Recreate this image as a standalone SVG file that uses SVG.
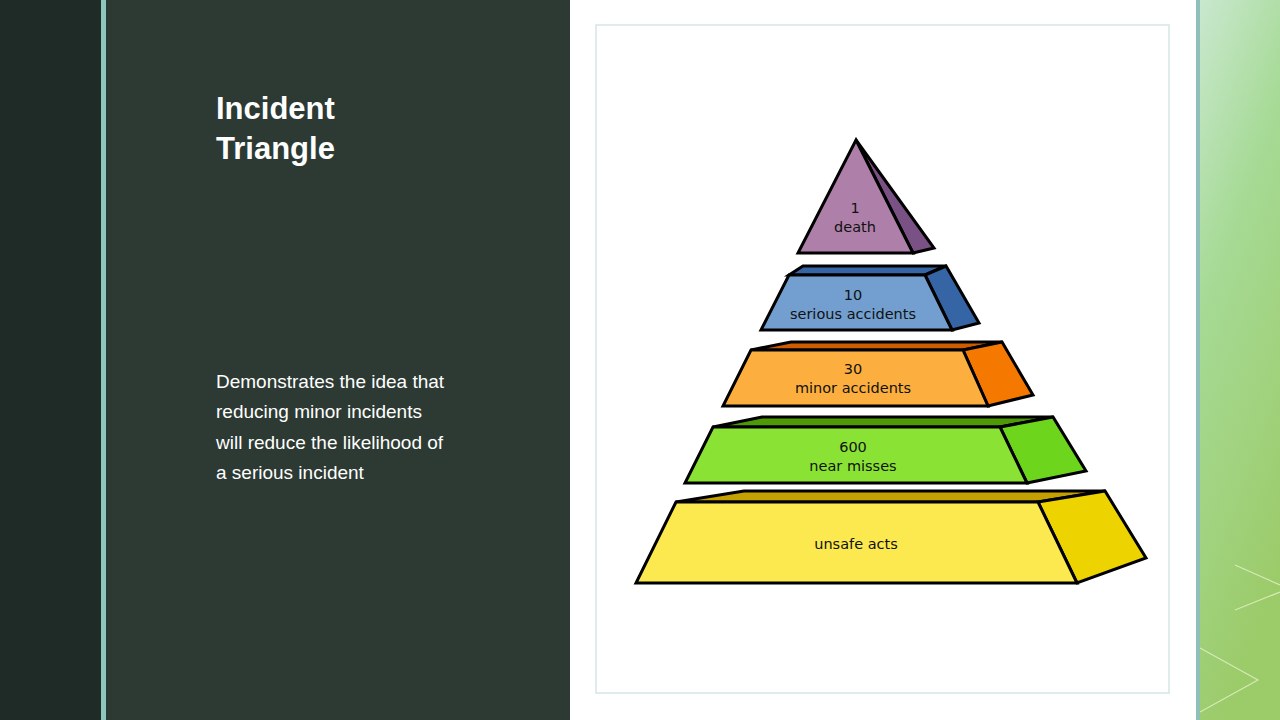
<svg xmlns="http://www.w3.org/2000/svg" width="1280" height="720" viewBox="0 0 1280 720">
<defs>
<linearGradient id="g" x1="0" y1="0" x2="0.3" y2="1">
<stop offset="0" stop-color="#c9e8cf"/><stop offset="0.4" stop-color="#a6da95"/><stop offset="1" stop-color="#9ccb6a"/>
</linearGradient>
<style>
.s{stroke:#000;stroke-width:3;stroke-linejoin:miter}
.t{font-family:"DejaVu Sans",sans-serif;font-size:14.5px;fill:#111;text-anchor:middle}
.w{font-family:"Liberation Sans",Arial,sans-serif;fill:#fff}
</style>
</defs>
<rect width="1280" height="720" fill="#2c3a33"/>
<rect width="101" height="720" fill="#1f2b26"/>
<rect x="101" width="5" height="720" fill="#8fc5bd"/>
<rect x="570" width="627" height="720" fill="#fff"/>
<rect x="1196" width="4" height="720" fill="#8fbfb8"/>
<rect x="1200" width="80" height="720" fill="url(#g)"/>
<g fill="none" stroke="#e4f2c8" stroke-width="1.2" opacity="0.8">
<path d="M1235 565 L1280 585 M1235 610 L1280 592"/>
<path d="M1200 648 L1258 680 L1200 712"/>
</g>
<rect x="596" y="25" width="573" height="668" fill="#fff" stroke="#d6e6e6" stroke-width="1.5"/>
<text class="w" x="216" y="119" font-size="31" font-weight="bold">Incident</text>
<text class="w" x="216" y="159" font-size="31" font-weight="bold">Triangle</text>
<g class="w" font-size="19">
<text x="216" y="388">Demonstrates the idea that</text>
<text x="216" y="418">reducing minor incidents</text>
<text x="216" y="449">will reduce the likelihood of</text>
<text x="216" y="479">a serious incident</text>
</g>
<g id="tier1">
<polygon class="s" points="856,140 934,248 913,253" fill="#7a5185"/>
<polygon class="s" points="856,140 913,253 798,253" fill="#ae80a9"/>
<text class="t" x="855" y="213">1</text><text class="t" x="855" y="232">death</text>
</g>
<g id="tier2">
<polygon class="s" points="789,275 803,266 946,266 925,275" fill="#3565a5"/>
<polygon class="s" points="925,275 946,266 979,323 952,330" fill="#3565a5"/>
<polygon class="s" points="789,275 925,275 952,330 761,330" fill="#729fcf"/>
<text class="t" x="853" y="300">10</text><text class="t" x="853" y="319">serious accidents</text>
</g>
<g id="tier3">
<polygon class="s" points="751,350 791,342 1002,342 963,350" fill="#ce5c00"/>
<polygon class="s" points="963,350 1002,342 1033,395 988,406" fill="#f57900"/>
<polygon class="s" points="751,350 963,350 988,406 723,406" fill="#fcaf3e"/>
<text class="t" x="853" y="374">30</text><text class="t" x="853" y="393">minor accidents</text>
</g>
<g id="tier4">
<polygon class="s" points="713,427 762,417 1053,417 1000,427" fill="#4e9a06"/>
<polygon class="s" points="1000,427 1053,417 1086,471 1027,483" fill="#6dd51c"/>
<polygon class="s" points="713,427 1000,427 1027,483 685,483" fill="#8ae234"/>
<text class="t" x="853" y="452">600</text><text class="t" x="853" y="471">near misses</text>
</g>
<g id="tier5">
<polygon class="s" points="676,502 744,491 1105,491 1038,502" fill="#c4a000"/>
<polygon class="s" points="1038,502 1105,491 1146,558 1077,583" fill="#edd400"/>
<polygon class="s" points="676,502 1038,502 1077,583 636,583" fill="#fce94f"/>
<text class="t" x="856" y="549">unsafe acts</text>
</g>
<g id="connectors"/>
</svg>
